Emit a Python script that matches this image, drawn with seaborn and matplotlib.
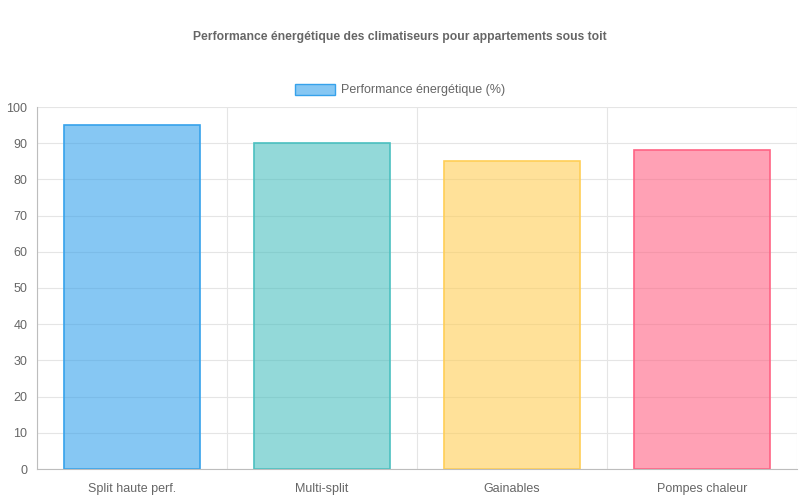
import matplotlib
matplotlib.use("Agg")
import matplotlib.pyplot as plt
import matplotlib.patches as mpatches
import seaborn as sns
import pandas as pd

# Data
categories = ["Split haute perf.", "Multi-split", "Gainables", "Pompes chaleur"]
values = [95, 90, 85, 88]
fill_colors = ["#36a2eb99", "#4bc0c099", "#ffce5699", "#ff638499"]
edge_colors = ["#36a2eb", "#4bc0c0", "#ffce56", "#ff6384"]
series_label = "Performance énergétique (%)"
title = "Performance énergétique des climatiseurs pour appartements sous toit"

sns.set_style("white")
plt.rcParams["font.family"] = ["Liberation Sans", "DejaVu Sans"]

df = pd.DataFrame({"cat": categories, "val": values})

fig = plt.figure(figsize=(8, 5), dpi=100)
ax = fig.add_axes([0.04625, 0.062, 0.95, 0.724])

sns.barplot(data=df, x="cat", y="val", hue="cat", palette=fill_colors,
            width=0.72, legend=False, ax=ax, saturation=1)
for patch, ec in zip(ax.patches, edge_colors):
    patch.set_edgecolor(ec)
    patch.set_linewidth(1.2)

ax.set_xlim(-0.5, len(categories) - 0.5)
ax.set_ylim(0, 100)
ax.set_yticks(range(0, 101, 10))
ax.set_xlabel("")
ax.set_ylabel("")

# grid lines at category boundaries
ax.set_xticks([i - 0.5 for i in range(len(categories) + 1)], minor=True)
ax.grid(True, which="minor", axis="x", color="#e5e5e5", linewidth=0.8)
ax.grid(True, which="major", axis="y", color="#e5e5e5", linewidth=0.8)
ax.set_axisbelow(True)

ax.tick_params(axis="x", which="major", length=0, pad=10, labelsize=9, labelcolor="#666666")
ax.tick_params(axis="x", which="minor", length=10, color="#e5e5e5", width=0.8)
ax.tick_params(axis="y", length=6, color="#bdbdbd", width=0.8, pad=1,
               labelsize=9, labelcolor="#666666")

for side in ["top", "right"]:
    ax.spines[side].set_visible(False)
ax.spines["left"].set_color("#bdbdbd")
ax.spines["bottom"].set_color("#bdbdbd")
ax.spines["left"].set_linewidth(0.8)
ax.spines["bottom"].set_linewidth(0.8)

fig.text(0.5, 0.926, title, ha="center", va="center", fontsize=8.7,
         fontweight="bold", color="#666666")

handle = mpatches.Patch(facecolor=fill_colors[0], edgecolor=edge_colors[0], linewidth=1)
fig.legend([handle], [series_label], loc="center", bbox_to_anchor=(0.5, 0.82),
           frameon=False, fontsize=9, labelcolor="#666666",
           handlelength=3.2, handleheight=1.0, handletextpad=0.5)

fig.savefig("out.png", dpi=100)
